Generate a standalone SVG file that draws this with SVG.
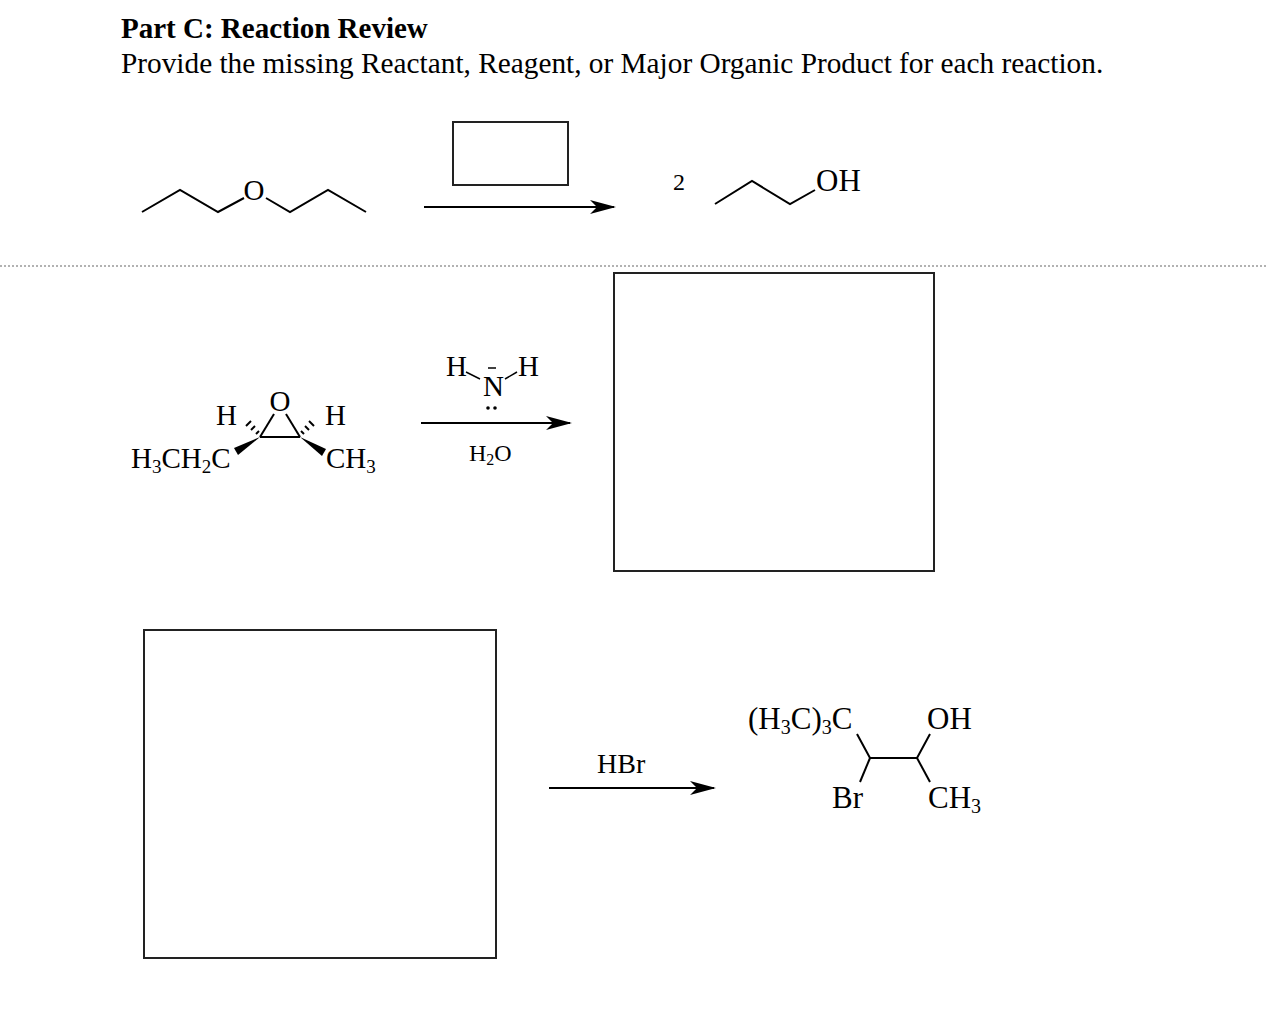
<svg xmlns="http://www.w3.org/2000/svg" width="1268" height="1010" viewBox="0 0 1268 1010">
<style>
text{font-family:"Liberation Serif",serif;fill:#000}
.b{stroke:#000;stroke-width:2;fill:none}
.box{stroke:#222;stroke-width:2;fill:#fff}
.l{font-size:31px}
.s{font-size:29px}
.r{font-size:24px}
</style>
<defs><marker id="a" markerWidth="26" markerHeight="14" refX="24" refY="7" orient="auto" markerUnits="userSpaceOnUse"><path d="M0,0 L26,7 L0,14 L7,7Z" fill="#000"/></marker></defs>
<rect width="1268" height="1010" fill="#fff"/>
<g id="title"><text x="121" y="38" font-size="29" font-weight="bold">Part C: Reaction Review</text>
<text x="121" y="73" font-size="29.3">Provide the missing Reactant, Reagent, or Major Organic Product for each reaction.</text></g>
<line x1="0" y1="266" x2="1268" y2="266" stroke="#999" stroke-width="1.5" stroke-dasharray="2,2"/>
<g id="ether"><polyline class="b" points="142,212 180,190 218,212 244,198"/><polyline class="b" points="266,198 290,212 328,190 366,212"/><text x="254" y="200" class="s" text-anchor="middle">O</text></g>
<g id="box1"><rect class="box" x="453" y="122" width="115" height="63"/></g>
<g id="propanol"><text x="679" y="190" class="r" text-anchor="middle">2</text><polyline class="b" points="715,204 752,181 790,204 815,190"/><text x="816" y="191" class="l">OH</text></g>
<g id="epoxide">
<polyline class="b" points="260,437 274,414"/><polyline class="b" points="286,414 300,437"/><line class="b" x1="260" y1="437" x2="300" y2="437"/>
<text x="280" y="411" class="s" text-anchor="middle">O</text>
<polygon points="260,437 234,448 238,455"/><polygon points="300,437 322,456 326,449"/>
<g stroke="#000" stroke-width="2"><line x1="256" y1="434" x2="259" y2="431"/><line x1="251" y1="430" x2="255" y2="426"/><line x1="246" y1="426" x2="251" y2="421"/>
<line x1="304" y1="434" x2="301" y2="431"/><line x1="309" y1="430" x2="305" y2="426"/><line x1="314" y1="426" x2="309" y2="421"/></g>
<text x="216" y="425" class="s">H</text><text x="325" y="425" class="s">H</text>
<text x="131" y="468" class="s">H<tspan font-size="19" dy="5">3</tspan><tspan dy="-5">CH</tspan><tspan font-size="19" dy="5">2</tspan><tspan dy="-5">C</tspan></text>
<text x="326" y="468" class="s">CH<tspan font-size="19" dy="5">3</tspan></text></g>
<g id="amide"><text x="446" y="376" class="s">H</text><text x="518" y="376" class="s">H</text><text x="483" y="396" class="s">N</text>
<line x1="488" y1="368" x2="496" y2="368" stroke="#000" stroke-width="1.5"/><line x1="466" y1="372" x2="480" y2="379" stroke="#000" stroke-width="1.5"/><line x1="517" y1="372" x2="505" y2="379" stroke="#000" stroke-width="1.5"/>
<circle cx="488" cy="408" r="1.8"/><circle cx="495" cy="408" r="1.8"/>
<text x="469" y="461" class="r">H<tspan font-size="16" dy="4">2</tspan><tspan dy="-4">O</tspan></text></g>
<g id="box2"><rect class="box" x="614" y="273" width="320" height="298"/></g>
<g id="box3"><rect class="box" x="144" y="630" width="352" height="328"/></g>
<g id="hbr"><text x="597" y="773" font-size="28">HBr</text></g>
<g id="product">
<polyline class="b" points="857,734 870,758 917,758 930,734"/><line class="b" x1="870" y1="758" x2="860" y2="782"/><line class="b" x1="917" y1="758" x2="930" y2="782"/>
<text x="748" y="729" class="l">(H<tspan font-size="20" dy="5">3</tspan><tspan dy="-5">C)</tspan><tspan font-size="20" dy="5">3</tspan><tspan dy="-5">C</tspan></text>
<text x="927" y="729" class="l">OH</text><text x="832" y="808" class="l">Br</text>
<text x="928" y="808" class="l">CH<tspan font-size="20" dy="5">3</tspan></text></g>
<g id="connectors">
<line class="b" x1="424" y1="207" x2="614" y2="207" marker-end="url(#a)"/>
<line class="b" x1="421" y1="423" x2="570" y2="423" marker-end="url(#a)"/>
<line class="b" x1="549" y1="788" x2="714" y2="788" marker-end="url(#a)"/>
</g>
</svg>
